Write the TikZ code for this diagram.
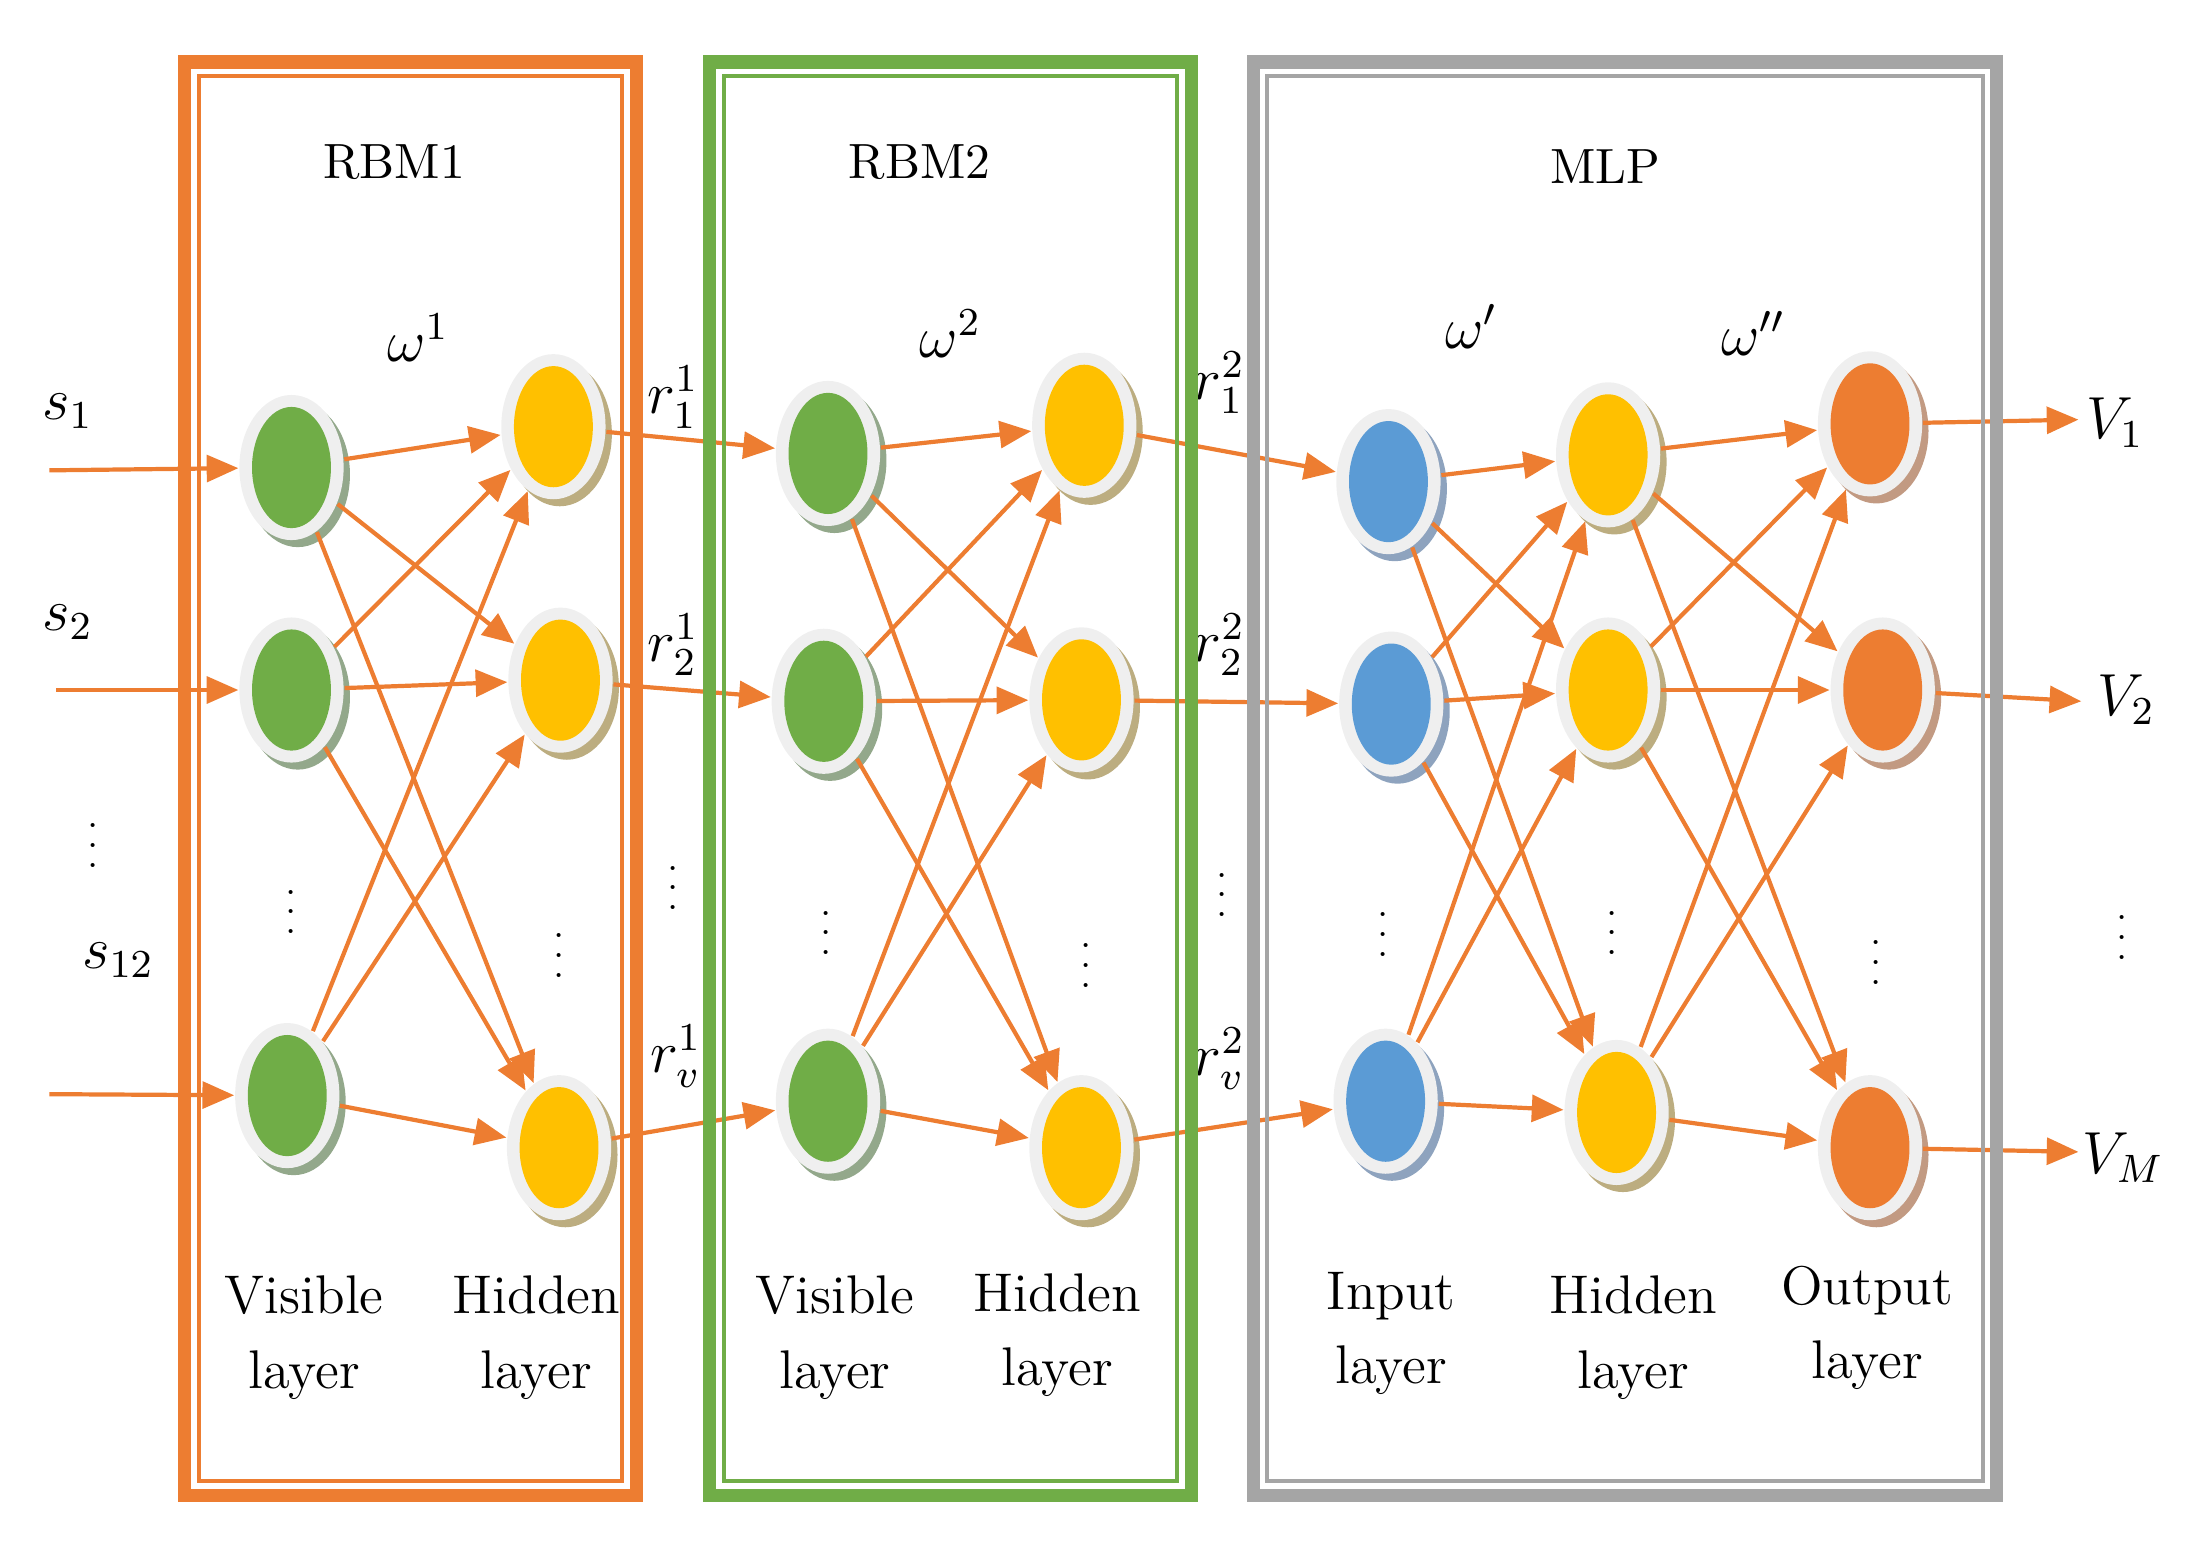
\documentclass[tikz,border=0pt]{standalone}
\usepackage{tikz}
\usetikzlibrary{arrows.meta, shapes.geometric, shadows}

\definecolor{rbmorange}{HTML}{ED7D31}
\definecolor{rbmgreen}{HTML}{70AD47}
\definecolor{mlpgray}{HTML}{A5A5A5}
\definecolor{unitblue}{HTML}{5B9BD5}
\definecolor{unityellow}{HTML}{FFC000}
\definecolor{ringgray}{HTML}{EFEFEF}
\definecolor{greenshade}{HTML}{93A88B}
\definecolor{yellowshade}{HTML}{BCAD80}
\definecolor{blueshade}{HTML}{8EA3BE}
\definecolor{orangeshade}{HTML}{C29A82}

\begin{document}
\begin{tikzpicture}[
  x=0.01cm, y=-0.01cm,
  font=\normalsize,
  neuron/.style 2 args={ellipse, minimum width=0.74cm, minimum height=1.03cm, inner sep=0pt, fill=ringgray,
    drop shadow={shadow xshift=0.045cm, shadow yshift=-0.05cm, fill=#2, opacity=1},
    path picture={\fill[#1] (path picture bounding box.center) ellipse [x radius=0.28cm, y radius=0.43cm];}},
  visnode/.style={neuron={rbmgreen}{greenshade}},
  hidnode/.style={neuron={unityellow}{yellowshade}},
  inpnode/.style={neuron={unitblue}{blueshade}},
  outnode/.style={neuron={rbmorange}{orangeshade}},
  arrow/.style={-{Triangle[length=6.4pt, width=5.4pt]}, line width=0.85pt, draw=rbmorange},
  unittitle/.style={font=\normalsize},
  layerlabel/.style={align=center, font=\fontsize{11}{15}\selectfont},
  sym/.style={font=\large},
  vdot/.style={font=\scriptsize},
  outerbox/.style={line width=2.7pt},
  innerbox/.style={line width=0.8pt}
]
\useasboundingbox (0,0) rectangle (1568,1108);

% === RBM1 ===
\node[visnode] (vis11) at (207,332) {};
\node[visnode] (vis12) at (207,490) {};
\node[visnode] (vis13) at (204,778) {};
\node[hidnode] (hid11) at (393,303) {};
\node[hidnode] (hid12) at (398,483) {};
\node[hidnode] (hid13) at (397,815) {};

% === RBM2 ===
\node[visnode] (vis21) at (588,322) {};
\node[visnode] (vis22) at (585,498) {};
\node[visnode] (vis23) at (588,782) {};
\node[hidnode] (hid21) at (770,302) {};
\node[hidnode] (hid22) at (768,497) {};
\node[hidnode] (hid23) at (768,815) {};

% === MLP ===
\node[inpnode] (inp1) at (986,342) {};
\node[inpnode] (inp2) at (988,500) {};
\node[inpnode] (inp3) at (984,782) {};
\node[hidnode] (mhid1) at (1142,323) {};
\node[hidnode] (mhid2) at (1142,490) {};
\node[hidnode] (mhid3) at (1148,790) {};
\node[outnode] (out1) at (1328,301) {};
\node[outnode] (out2) at (1337,490) {};
\node[outnode] (out3) at (1328,815) {};

% === CONNECTIONS INSIDE UNITS ===
\foreach \a in {1,2,3}
  \foreach \b in {1,2,3} {
    \draw[arrow] (vis1\a) -- (hid1\b);
    \draw[arrow] (vis2\a) -- (hid2\b);
    \draw[arrow] (inp\a) -- (mhid\b);
    \draw[arrow] (mhid\a) -- (out\b);
  }

% === CONNECTIONS BETWEEN UNITS ===
\foreach \a in {1,2,3} {
  \draw[arrow] (hid1\a) -- (vis2\a);
  \draw[arrow] (hid2\a) -- (inp\a);
}

% inputs
\coordinate (sin1) at (35,334);
\coordinate (sin2) at (40,490);
\coordinate (sin3) at (35,777);
\draw[arrow] (sin1) -- (vis11);
\draw[arrow] (sin2) -- (vis12);
\draw[arrow] (sin3) -- (vis13);

% outputs
\coordinate (vout1) at (1476,298);
\coordinate (vout2) at (1478,498);
\coordinate (vout3) at (1476,818);
\draw[arrow] (out1) -- (vout1);
\draw[arrow] (out2) -- (vout2);
\draw[arrow] (out3) -- (vout3);

% === LABELS ===
\node[sym] (ls1) at (48,292) {$s_{1}$};
\node[sym] (ls2) at (48,442) {$s_{2}$};
\node[vdot] (lsdots) at (66,590) {$\vdots$};
\node[sym] (ls12) at (84,682) {$s_{12}$};

\node[sym] (lr11) at (478,282) {$r_{1}^{1}$};
\node[sym] (lr21) at (478,458) {$r_{2}^{1}$};
\node[vdot] (lrdots1) at (478,620) {$\vdots$};
\node[sym] (lrv1) at (480,750) {$r_{v}^{1}$};
\node[sym] (lr12) at (866,272) {$r_{1}^{2}$};
\node[sym] (lr22) at (866,458) {$r_{2}^{2}$};
\node[vdot] (lrdots2) at (868,625) {$\vdots$};
\node[sym] (lrv2) at (866,752) {$r_{v}^{2}$};

\node[sym] (lv1) at (1502,300) {$V_{1}$};
\node[sym] (lv2) at (1510,497) {$V_{2}$};
\node[vdot] (lvdots) at (1507,655) {$\vdots$};
\node[sym] (lvm) at (1508,822) {$V_{M}$};

% column dots
\node[vdot] (dvis1) at (207,637) {$\vdots$};
\node[vdot] (dhid1) at (397,668) {$\vdots$};
\node[vdot] (dvis2) at (587,652) {$\vdots$};
\node[vdot] (dhid2) at (771,675) {$\vdots$};
\node[vdot] (dinp) at (982,653) {$\vdots$};
\node[vdot] (dmhid) at (1145,652) {$\vdots$};
\node[vdot] (dout) at (1332,673) {$\vdots$};

% weights
\node[sym] (w1) at (297,240) {$\omega^{1}$};
\node[sym] (w2) at (675,237) {$\omega^{2}$};
\node[sym] (w3) at (1045,232) {$\omega^{\prime}$};
\node[sym] (w4) at (1245,237) {$\omega^{\prime\prime}$};

% titles
\node[unittitle] (t1) at (280,115) {RBM1};
\node[unittitle] (t2) at (653,115) {RBM2};
\node[unittitle] (t3) at (1140,118) {MLP};

% layer names
\node[layerlabel] (lab11) at (216,950) {Visible\\layer};
\node[layerlabel] (lab12) at (381,950) {Hidden\\layer};
\node[layerlabel] (lab21) at (593,950) {Visible\\layer};
\node[layerlabel] (lab22) at (751,948) {Hidden\\layer};
\node[layerlabel] (lab31) at (988,947) {Input\\layer};
\node[layerlabel] (lab32) at (1160,950) {Hidden\\layer};
\node[layerlabel] (lab33) at (1326,943) {Output\\layer};

% === UNIT BOXES ===
\draw[outerbox, rbmorange] (131,44) rectangle (452,1062);
\draw[innerbox, rbmorange] (141,54) rectangle (442,1052);
\draw[outerbox, rbmgreen] (504,44) rectangle (846,1062);
\draw[innerbox, rbmgreen] (514,54) rectangle (836,1052);
\draw[outerbox, mlpgray] (890,44) rectangle (1418,1062);
\draw[innerbox, mlpgray] (900,54) rectangle (1408,1052);

\end{tikzpicture}
\end{document}
